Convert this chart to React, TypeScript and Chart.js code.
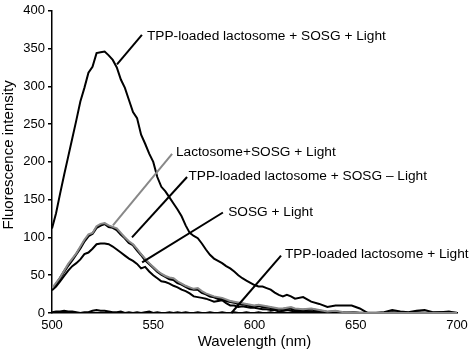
import React, { useEffect, useRef } from "react";
import { Chart, registerables } from "chart.js";

Chart.register(...registerables);

// Wavelength sampling (nm)
const wavelengths = [
  500, 502, 504, 506, 508, 510, 512, 514, 516, 518, 520, 522, 524, 526, 528, 530,
  532, 534, 536, 538, 540, 542, 544, 546, 548, 550, 552, 554, 556, 558, 560, 562,
  564, 566, 568, 570, 572, 574, 576, 578, 580, 582, 584, 586, 588, 590, 592, 594,
  596, 598, 600, 602, 604, 606, 608, 610, 612, 614, 616, 618, 620,
  624, 628, 632, 636, 640, 644, 648, 652, 656, 660, 664, 668, 672, 676, 680, 684,
  688, 692, 696, 700,
];

// TPP-loaded lactosome + SOSG + Light
const tppSosgLight = [
  112, 132, 158, 183, 207, 231, 255, 280, 298, 318, 326, 344, 345, 346, 341, 335,
  325, 309, 298, 282, 266, 258, 236, 224, 211, 200, 180, 167, 161, 153, 145, 137,
  128, 116, 106, 102, 99, 92, 84, 77, 72, 69, 66, 62, 59, 55, 50, 46,
  43, 40, 37, 35, 35, 33, 31, 27, 24, 22, 24, 22, 19,
  21, 15, 12, 8, 10, 10, 10, 6, 0, 0, 1, 4, 2, 1, 3, 4,
  1, 1, 2, 0,
];

// Lactosome+SOSG + Light (gray)
const lactoSosgLight = [
  33, 40, 47, 56, 65, 72, 79, 88, 97, 104, 106, 115, 118, 119, 116, 114,
  112, 106, 100, 95, 91, 85, 78, 72, 66, 61, 56, 52, 49, 47, 46, 42,
  39, 36, 34, 32, 33, 29, 26, 24, 22, 21, 20, 18, 16, 15, 14, 13,
  12, 11, 10, 11, 10, 9, 8, 7, 6, 6, 7, 8, 6,
  5, 6, 4, 2, 3, 1, 1, 0, 0, 0, 0, 0, 0, 0, 0, 0,
  0, 0, 0, 0,
];

// TPP-loaded lactosome + SOSG – Light
const tppSosgDark = [
  32, 38, 46, 55, 63, 70, 78, 86, 95, 102, 105, 113, 116, 118, 114, 113,
  110, 104, 99, 93, 90, 83, 77, 70, 65, 60, 55, 51, 48, 45, 44, 40,
  38, 35, 32, 31, 31, 27, 25, 22, 21, 19, 19, 16, 15, 14, 12, 12,
  11, 9, 9, 10, 8, 8, 7, 5, 5, 5, 6, 6, 4,
  4, 5, 3, 1, 2, 0, 1, 0, 0, 0, 0, 0, 0, 0, 0, 0,
  0, 0, 0, 0,
];

// SOSG + Light
const sosgLight = [
  30, 35, 42, 49, 56, 62, 66, 71, 78, 80, 85, 91, 92, 92, 91, 88,
  84, 80, 76, 72, 69, 65, 59, 61, 55, 50, 46, 42, 41, 39, 36, 34,
  31, 29, 26, 22, 21, 20, 19, 17, 15, 16, 17, 13, 10, 10, 8, 9,
  8, 7, 7, 6, 5, 5, 4, 4, 2, 3, 4, 3, 2,
  3, 2, 1, 1, 0, 0, 0, 0, 0, 0, 0, 0, 0, 0, 0, 0,
  0, 0, 0, 0,
];

// TPP-loaded lactosome + Light
const tppLight = [
  1, 2, 2, 3, 2, 2, 1, 0, 1, 1, 3, 4, 3, 3, 2, 1,
  1, 2, 0, 1, 0, 1, 0, 1, 2, 0, 1, 0, 0, 1, 0, 1,
  0, 1, 0, 0, 1, 0, 0, 1, 0, 0, 1, 0, 0, 1, 0, 0,
  1, 0, 0, 1, 0, 0, 1, 0, 0, 1, 0, 0, 1,
  0, 0, 1, 0, 0, 1, 0, 0, 0, 0, 0, 1, 0, 0, 1, 0,
  0, 1, 0, 0,
];

const xTicks = [500, 550, 600, 650, 700];
const yTicks = [0, 50, 100, 150, 200, 250, 300, 350, 400];

const xTitle = "Wavelength (nm)";
const yTitle = "Fluorescence intensity";

// Callout labels: [lineStartX, lineStartY, lineEndX, lineEndY, textX, textY]
const calloutTexts = [
  "TPP-loaded lactosome + SOSG + Light",
  "Lactosome+SOSG + Light",
  "TPP-loaded lactosome + SOSG \u2013 Light",
  "SOSG + Light",
  "TPP-loaded lactosome + Light",
];
const calloutAnchors = [
  [532.1, 329, 544.4, 368, 546.9, 366],
  [530.1, 116, 559.3, 210.5, 561.2, 212.5],
  [539.5, 100, 566.7, 180, 567.4, 181.6],
  [544.5, 67, 584.4, 133, 587, 134],
  [588.6, 0, 613.1, 76, 615, 77.6],
];
const calloutColors = ["#000", "#888", "#000", "#000", "#000"];

const FONT = "'Liberation Sans', Arial, Helvetica, sans-serif";

const toPoints = (vals: number[]) => vals.map((v, i) => ({ x: wavelengths[i], y: v }));

const calloutPlugin = {
  id: "callouts",
  afterDatasetsDraw(chart: any) {
    const { ctx, scales } = chart;
    const xs = scales.x;
    const ys = scales.y;
    ctx.save();
    calloutTexts.forEach((text, i) => {
      const [x1, y1, x2, y2, tx, ty] = calloutAnchors[i];
      ctx.strokeStyle = calloutColors[i];
      ctx.lineWidth = 2;
      ctx.beginPath();
      ctx.moveTo(xs.getPixelForValue(x1), ys.getPixelForValue(y1));
      ctx.lineTo(xs.getPixelForValue(x2), ys.getPixelForValue(y2));
      ctx.stroke();
      ctx.fillStyle = "#000";
      ctx.font = `13.7px ${FONT}`;
      ctx.textAlign = "left";
      ctx.textBaseline = "middle";
      ctx.fillText(text, xs.getPixelForValue(tx), ys.getPixelForValue(ty));
    });
    // y axis title
    ctx.save();
    ctx.translate(ys.left + 9, (ys.top + ys.bottom) / 2 - 7);
    ctx.rotate(-Math.PI / 2);
    ctx.font = `15px ${FONT}`;
    ctx.textAlign = "center";
    ctx.textBaseline = "middle";
    ctx.fillText(yTitle, 0, 0);
    ctx.restore();
    ctx.restore();
  },
};

export default function App() {
  const canvasRef = useRef<HTMLCanvasElement | null>(null);

  useEffect(() => {
    if (!canvasRef.current) return;
    const lineDs = (label: string, data: number[], color: string, width: number) => ({
      label,
      data: toPoints(data),
      borderColor: color,
      backgroundColor: color,
      borderWidth: width,
      pointRadius: 0,
      tension: 0,
      fill: false,
    });
    const chart = new Chart(canvasRef.current, {
      type: "line",
      data: {
        datasets: [
          lineDs("Lactosome+SOSG + Light", lactoSosgLight, "#8a8a8a", 2),
          lineDs("TPP-loaded lactosome + SOSG \u2013 Light", tppSosgDark, "#000", 2.5),
          lineDs("TPP-loaded lactosome + SOSG + Light", tppSosgLight, "#000", 2),
          lineDs("SOSG + Light", sosgLight, "#000", 2),
          lineDs("TPP-loaded lactosome + Light", tppLight, "#000", 2),
        ],
      },
      options: {
        animation: false,
        responsive: false,
        maintainAspectRatio: false,
        devicePixelRatio: 1,
        layout: { padding: { top: 9, right: 17, left: 0, bottom: 0 } },
        plugins: { legend: { display: false }, tooltip: { enabled: false } },
        scales: {
          x: {
            type: "linear",
            min: 500,
            max: 700,
            afterBuildTicks: (scale: any) => {
              scale.ticks = xTicks.map((v) => ({ value: v }));
            },
            afterFit: (scale: any) => {
              scale.height = 43;
            },
            grid: { display: false, drawTicks: false },
            border: { display: true, color: "#000", width: 1.5 },
            ticks: {
              color: "#000",
              padding: 5,
              font: { size: 13, family: FONT },
              maxRotation: 0,
            },
            title: {
              display: true,
              text: xTitle,
              color: "#000",
              font: { size: 15, family: FONT },
              padding: { top: 0, bottom: 5 },
            },
          },
          y: {
            type: "linear",
            min: 0,
            max: 400,
            afterBuildTicks: (scale: any) => {
              scale.ticks = yTicks.map((v) => ({ value: v }));
            },
            afterFit: (scale: any) => {
              scale.width = 52;
            },
            grid: {
              display: true,
              drawOnChartArea: false,
              drawTicks: true,
              tickLength: 4,
              color: "#000",
              lineWidth: 1.5,
            },
            border: { display: true, color: "#000", width: 1.5 },
            ticks: {
              color: "#000",
              padding: 3,
              font: { size: 13, family: FONT },
            },
            title: { display: false },
          },
        },
      },
      plugins: [calloutPlugin],
    });
    return () => chart.destroy();
  }, []);

  return (
    <div style={{ position: "fixed", left: 0, top: 0, width: 474, height: 356, background: "#fff" }}>
      <canvas ref={canvasRef} width={474} height={356} style={{ display: "block" }} />
    </div>
  );
}
